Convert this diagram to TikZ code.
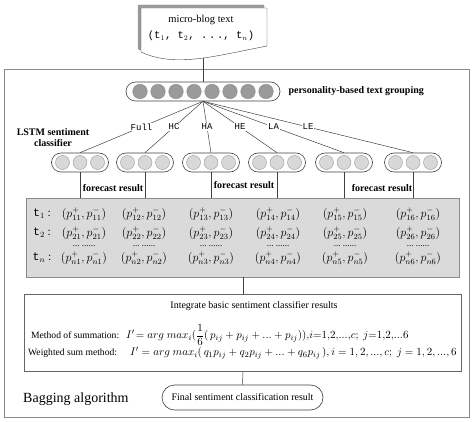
\documentclass[tikz,border=0pt]{standalone}
\usepackage{fontspec}
\setmainfont{Liberation Serif}
\setmonofont{Liberation Mono}
\usepackage{tikz}
\usetikzlibrary{shapes, positioning}
\definecolor{gridGray}{HTML}{DADADA}
\definecolor{darkDot}{HTML}{9A9A9A}
\definecolor{lightDot}{HTML}{D8D8D8}
\definecolor{frameGray}{HTML}{8A8A8A}
\tikzstyle{pill} = [rounded rectangle, draw=black!75, line width=0.6pt, minimum width=57pt, minimum height=19pt, inner sep=0pt]
\tikzstyle{line} = [draw=black!75, line width=0.5pt]

\begin{document}
\begin{tikzpicture}[x=1pt, y=-1pt,
    heading/.style={font=\bfseries\fontsize{10}{11}\selectfont, inner sep=0pt, align=center},
    plain/.style={font=\fontsize{10}{11}\selectfont, inner sep=0pt},
    tag/.style={font=\ttfamily\fontsize{9}{9}\selectfont, fill=white, inner sep=0.8pt},
    cell/.style={font=\fontsize{11.5}{11.5}\selectfont, inner sep=0pt},
    dotrow/.style={font=\fontsize{9}{9}\selectfont, inner sep=0pt},
    frame/.style={draw=frameGray, line width=0.9pt}
]
\useasboundingbox (0,0) rectangle (474,422);

% Outer frame
\draw[frame] (4,69) rectangle (469,417);

% Input text
\filldraw[fill=darkDot, draw=darkDot] (138,5) -- (264,5) -- (264,43) .. controls (212,53) and (172,65) .. (138,49) -- cycle;
\filldraw[fill=white, draw=black!75] (141,8) -- (267,8) -- (267,46) .. controls (215,56) and (175,68) .. (141,52) -- cycle;
\node[plain, font=\fontsize{10.5}{12}\selectfont] (doc) at (201,20) {micro-blog text};
\node[inner sep=0pt, font=\ttfamily\fontsize{10.5}{12}\selectfont, below=6pt of doc] (seq) {(t$_1$, t$_2$, .\,.\,., t$_n$)};
\coordinate (docb) at (203,58);

% Grouping
\node[pill, minimum width=154pt] (grp) at (203,91.5) {};
\foreach \i in {0,...,7}
    \filldraw[fill=darkDot, draw=black!45] ({140+18*\i},91.5) circle (7.3pt);
\node[heading, right=8pt of grp] (grplbl) {personality-based text grouping};
\draw[line] (docb) -- (grp.north);

% Classifiers
\node[heading] (lstm) at (53,138) {LSTM sentiment\\classifier};
\node[pill] (c1) at (80,162.5) {};
\node[pill] (c2) at (145,162.5) {};
\node[pill] (c3) at (211,162.5) {};
\node[pill] (c4) at (277,162.5) {};
\node[pill] (c5) at (344,162.5) {};
\node[pill] (c6) at (413,162.5) {};
\foreach \n in {c1,c2,c3,c4,c5,c6}
    \foreach \dx in {-17.5,0,17.5}
        \filldraw[fill=lightDot, draw=black!40] ([xshift=\dx pt]\n.center) circle (7pt);

\draw[line] (grp.south) -- node[tag] {Full} (c1.north);
\draw[line] (grp.south) -- node[tag] {HC} (c2.north);
\draw[line] (grp.south) -- node[tag] {HA} (c3.north);
\draw[line] (grp.south) -- node[tag] {HE} (c4.north);
\draw[line] (grp.south) -- node[tag] {LA} (c5.north);
\draw[line] (grp.south) -- node[tag] {LE} (c6.north);

% Forecast matrix
\node[draw=frameGray, line width=0.6pt, fill=gridGray, minimum width=433pt, minimum height=79pt, inner sep=0pt] (box) at (243,237.5) {};
\draw[line] (c1.south) -- (c1.south |- box.north);
\draw[line] (c2.south) -- (c2.south |- box.north);
\draw[line] (c3.south) -- (c3.south |- box.north);
\draw[line] (c4.south) -- (c4.south |- box.north);
\draw[line] (c5.south) -- (c5.south |- box.north);
\draw[line] (c6.south) -- (c6.south |- box.north);
\node[heading] (fr1) at (113,188) {forecast result};
\node[heading] (fr2) at (244,185) {forecast result};
\node[heading] (fr3) at (382,188) {forecast result};

\node[cell] (t1) at (42,214) {\texttt{t}$_1$ :};
\node[cell] (t2) at (42,233) {\texttt{t}$_2$ :};
\node[cell] (tn) at (42,258) {\texttt{t}$_n$ :};
\foreach \j/\x in {1/84,2/144,3/211,4/278,5/345,6/418} {
    \node[cell] (a\j) at (\x,214) {$(p^{+}_{1\j}, p^{-}_{1\j})$};
    \node[cell] (b\j) at (\x,233) {$(p^{+}_{2\j}, p^{-}_{2\j})$};
    \node[dotrow] (d\j) at (\x,246) {...\ ......};
    \node[cell] (e\j) at (\x,258) {$(p^{+}_{n\j}, p^{-}_{n\j})$};
}

% Integration
\node[draw=black!60, fill=white, line width=0.6pt, minimum width=437pt, minimum height=77pt, inner sep=0pt] (integ) at (243,332.5) {};
\draw[line] (box.south) -- (integ.north);
\node[plain] (ititle) at (254,306) {Integrate basic sentiment classifier results};
\node[plain, anchor=west, font=\fontsize{9.6}{11}\selectfont] (sumlbl) at (31,335) {Method of summation:};
\node[plain, anchor=west, font=\fontsize{9.6}{11}\selectfont] (wlbl) at (28,353) {Weighted sum method:};
\node[inner sep=0pt, anchor=west, font=\fontsize{11}{12}\selectfont] (sumeq) at (126,335)
    {$I'\!=arg\ max_i({\displaystyle\frac{1}{6}}(\,p_{ij} + p_{ij} + ... + p_{ij})){,}i{=}1{,}2{,}...{,}c;\ j{=}1{,}2{,}...6$};
\node[inner sep=0pt, anchor=west, font=\fontsize{11}{12}\selectfont] (weq) at (130,353)
    {$I' = arg\ max_i(\,q_1 p_{ij} + q_2 p_{ij} + ... + q_6 p_{ij}\,),i=1,2,...,c;\ j=1,2,...,6$};

% Result
\node[pill, minimum width=161pt, minimum height=25pt, font=\fontsize{10}{11}\selectfont] (final) at (242.5,397.5) {Final sentiment classification result};
\draw[line] (integ.south) -- (final.north);
\node[plain, font=\fontsize{14}{16}\selectfont, anchor=west] (bag) at (23,399) {Bagging algorithm};
\end{tikzpicture}
\end{document}
